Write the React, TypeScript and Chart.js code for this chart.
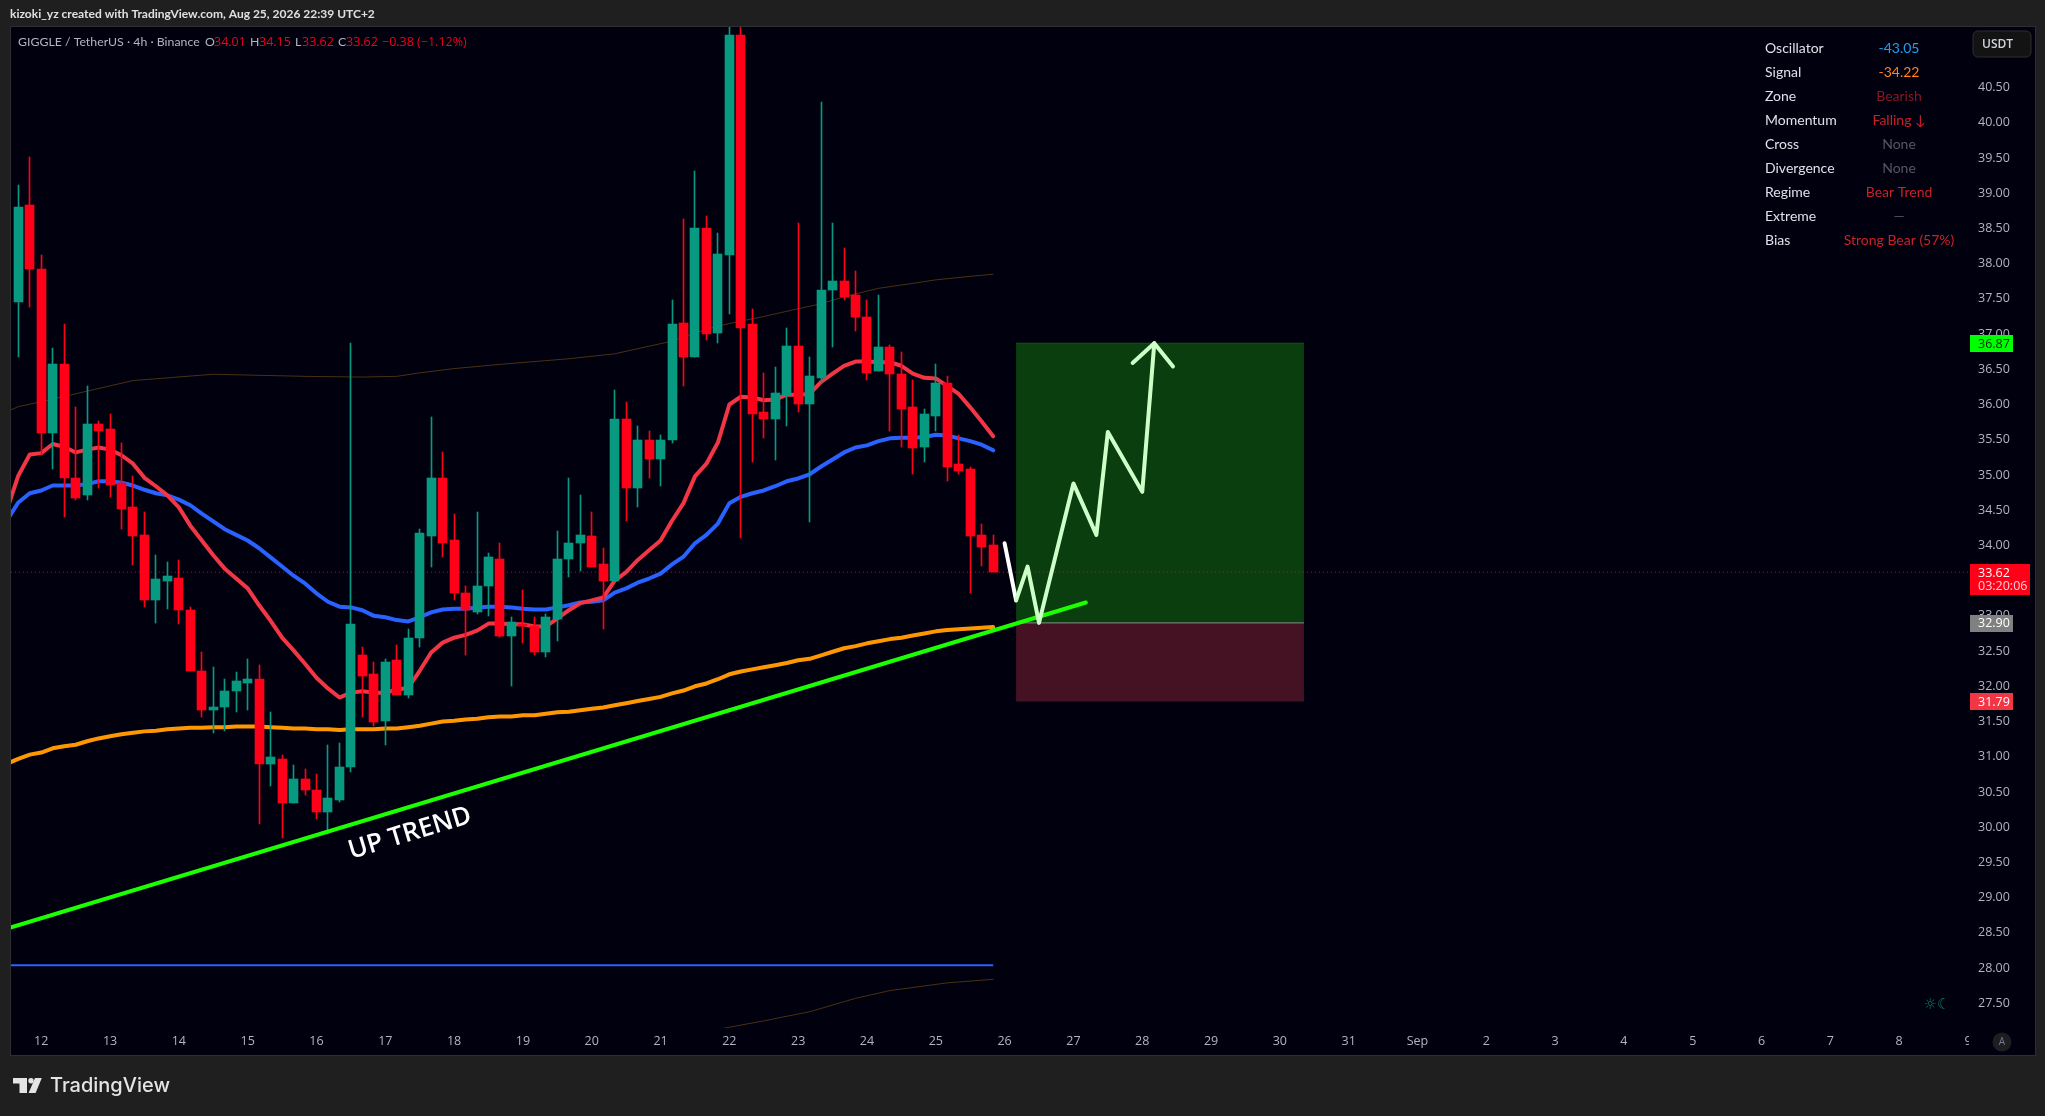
import React, { useEffect, useRef } from "react";
import Chart from "chart.js/auto";

const opens = [37.45,38.83,37.92,35.60,36.58,34.96,34.71,35.72,35.65,34.88,34.54,34.15,33.23,33.49,33.54,33.09,32.21,31.67,31.70,31.93,32.05,32.10,30.89,30.97,30.35,30.68,30.53,30.22,30.39,30.85,32.44,32.17,31.51,32.37,31.87,32.68,34.14,34.95,34.07,33.33,33.06,33.42,33.81,32.71,32.89,32.86,32.49,32.96,33.80,34.03,34.14,33.73,33.49,35.79,34.82,35.49,35.22,35.49,37.16,36.68,38.51,37.02,38.12,41.25,37.15,35.90,35.80,36.14,36.83,36.01,36.38,37.62,37.75,37.55,37.24,36.48,36.81,36.43,35.97,35.39,35.84,36.31,35.16,35.08,34.15,34.01];
const highs = [39.11,39.51,38.12,36.80,37.14,35.96,36.26,35.77,35.86,35.45,34.98,34.47,33.87,33.76,33.79,33.13,32.49,32.27,32.10,32.20,32.39,32.30,31.63,31.03,30.88,30.82,30.75,31.17,31.20,36.87,32.56,32.34,32.39,32.59,32.81,34.23,35.83,35.32,34.45,33.43,34.47,33.89,34.03,32.98,33.36,32.99,33.02,34.20,34.95,34.71,34.47,33.96,36.21,36.03,35.70,35.63,35.57,37.49,38.64,39.32,38.67,38.44,41.60,41.60,37.35,36.45,36.53,37.08,38.57,36.67,40.29,38.58,38.22,37.89,37.48,37.55,36.84,36.74,36.35,35.94,36.57,36.41,35.57,35.11,34.30,34.15];
const lows = [36.67,37.38,35.29,35.09,34.41,34.64,34.65,34.82,34.69,34.24,33.72,33.13,32.90,33.10,32.89,32.21,31.56,31.34,31.37,31.63,31.66,30.05,30.58,29.84,30.35,30.46,30.12,29.90,30.36,30.79,31.56,31.43,31.17,31.87,31.83,32.56,33.69,33.84,33.22,32.45,33.03,33.00,32.70,32.01,32.61,32.45,32.41,32.65,33.55,33.63,33.70,32.82,33.49,34.35,34.55,34.96,34.84,35.46,36.26,36.68,36.91,36.87,37.28,34.11,35.18,35.53,35.21,35.69,35.89,34.33,36.30,36.82,37.48,37.05,36.35,36.48,35.63,35.40,35.01,35.18,35.62,34.91,35.01,33.32,33.71,33.62];
const closes = [38.80,37.93,35.59,36.58,34.95,34.68,35.72,35.63,34.86,34.52,34.14,33.23,33.52,33.56,33.09,32.22,31.67,31.71,31.93,32.07,32.10,30.89,30.99,30.35,30.69,30.53,30.22,30.41,30.86,32.89,32.14,31.50,32.35,31.87,32.69,34.17,34.95,34.04,33.32,33.08,33.42,33.83,32.71,32.91,32.86,32.49,32.99,33.81,34.03,34.15,33.70,33.50,35.79,34.82,35.49,35.23,35.49,37.15,36.68,38.50,37.00,38.14,41.25,37.09,35.87,35.80,36.17,36.83,36.01,36.41,37.62,37.75,37.53,37.24,36.45,36.81,36.43,35.94,35.38,35.86,36.30,35.12,35.06,34.14,33.98,33.62];

// moving averages: first value belongs to bar -1, the bar just left of the visible pane
const redEma = [34.50,34.99,35.29,35.31,35.44,35.40,35.32,35.36,35.39,35.36,35.28,35.16,34.96,34.84,34.71,34.54,34.28,34.07,33.86,33.67,33.53,33.39,33.15,32.93,32.69,32.51,32.32,32.12,31.97,31.84,31.91,31.93,31.91,31.91,31.95,31.98,32.22,32.48,32.62,32.69,32.73,32.79,32.89,32.89,32.88,32.88,32.85,32.85,32.96,33.08,33.18,33.22,33.26,33.50,33.62,33.79,33.93,34.07,34.35,34.60,34.98,35.16,35.46,36.00,36.11,36.10,36.06,36.07,36.14,36.14,36.15,36.32,36.44,36.55,36.61,36.61,36.60,36.60,36.55,36.44,36.38,36.37,36.26,36.15,35.96,35.76,35.55];
const blueEma = [34.35,34.61,34.74,34.78,34.85,34.85,34.85,34.87,34.91,34.91,34.89,34.85,34.79,34.74,34.71,34.65,34.57,34.45,34.34,34.23,34.15,34.07,33.96,33.83,33.70,33.57,33.46,33.32,33.20,33.13,33.12,33.08,33.00,32.98,32.94,32.92,32.98,33.05,33.09,33.10,33.10,33.12,33.13,33.13,33.12,33.10,33.09,33.09,33.12,33.15,33.19,33.20,33.22,33.33,33.39,33.47,33.53,33.60,33.73,33.84,34.03,34.15,34.31,34.60,34.69,34.74,34.78,34.84,34.91,34.95,35.01,35.12,35.22,35.32,35.39,35.42,35.48,35.52,35.53,35.53,35.54,35.57,35.56,35.52,35.48,35.43,35.35];
const orangeEma = [30.90,30.97,31.03,31.06,31.12,31.15,31.17,31.22,31.26,31.29,31.32,31.34,31.36,31.37,31.39,31.40,31.41,31.41,31.42,31.42,31.43,31.43,31.43,31.42,31.41,31.40,31.40,31.39,31.39,31.38,31.39,31.39,31.39,31.40,31.40,31.42,31.44,31.47,31.50,31.51,31.53,31.54,31.56,31.57,31.57,31.59,31.59,31.61,31.63,31.64,31.66,31.68,31.70,31.73,31.76,31.79,31.82,31.85,31.90,31.94,32.00,32.04,32.10,32.17,32.21,32.24,32.27,32.30,32.33,32.37,32.39,32.44,32.49,32.54,32.57,32.61,32.64,32.67,32.69,32.72,32.75,32.78,32.80,32.81,32.82,32.83,32.84];

const upperBandBars = [-1,0,2,6,10,17,25,30,33,35,38,42,48,52,57,60,62,65,68,70,72,75,78,80,83,85];
const upperBand = [35.90,35.97,36.04,36.19,36.34,36.43,36.40,36.39,36.40,36.45,36.51,36.57,36.65,36.72,36.90,37.07,37.15,37.25,37.36,37.43,37.53,37.65,37.72,37.77,37.82,37.85];
const lowerBandBars = [60,62,65,69,73,76,81,85];
const lowerBand = [27.10,27.16,27.25,27.38,27.57,27.68,27.79,27.84];

const trendBars = [-1, 93.08];
const trendPrices = [28.56, 33.19];
const flatLinePrice = 28.04;
const lastPrice = 33.62;
const targetPrice = 36.87;
const entryPrice = 32.90;
const stopPrice = 31.79;
const positionBars = [87, 112.1];

const whiteBars = [86, 87];
const whitePrices = [34.03, 33.22];
const pathBars = [87, 88, 89, 92, 94, 95, 98, 99.05];
const pathPrices = [33.22, 33.70, 32.90, 34.88, 34.15, 35.61, 34.76, 36.87];
const arrowBars = [97.16, 99.05, 100.68];
const arrowPrices = [36.59, 36.87, 36.54];

const dayBars = [2,8,14,20,26,32,38,44,50,56,62,68,74,80,86,92,98,104,110,116,122,128,134,140,146,152,158,164,170];
const dayLabels = ["12","13","14","15","16","17","18","19","20","21","22","23","24","25","26","27","28","29","30","31","Sep","2","3","4","5","6","7","8","9"];
const priceTicks = [27.5,28,28.5,29,29.5,30,30.5,31,31.5,32,32.5,33,33.5,34,34.5,35,35.5,36,36.5,37,37.5,38,38.5,39,39.5,40,40.5];

const tableLabels = ["Oscillator","Signal","Zone","Momentum","Cross","Divergence","Regime","Extreme","Bias"];
const tableValues = ["-43.05","-34.22","Bearish","Falling ↓","None","None","Bear Trend","—","Strong Bear (57%)"];
const tableColors = ["#1fa0f0","#ff801c","#8a1722","#cc2028","#565664","#565664","#cc2028","#565664","#cc2028"];

const UI = '"Open Sans", "Noto Sans", sans-serif';
const LABEL = 'Lato, "Open Sans", sans-serif';
const GREEN = "#089981";
const RED = "#ff0018";
const PANE = "#00000f";
const OUTER = "#1f1f1f";

const pts = (xs: number[], ys: number[]) => xs.map((x, i) => ({ x, y: ys[i] }));
const fromMinusOne = (ys: number[]) => ys.map((y, i) => ({ x: i - 1, y }));

function line(data: any[], color: string, width: number, order: number, extra: any = {}) {
  return {
    type: "line",
    data,
    borderColor: color,
    borderWidth: width,
    pointRadius: 0,
    tension: 0,
    order,
    borderCapStyle: "round",
    borderJoinStyle: "round",
    ...extra,
  };
}

function text(c: CanvasRenderingContext2D, s: string, x: number, y: number, color: string, font: string, align: CanvasTextAlign = "left") {
  c.fillStyle = color;
  c.font = font;
  c.textAlign = align;
  c.textBaseline = "middle";
  c.fillText(s, x, y);
}

const paneGround = {
  id: "paneGround",
  beforeDraw(chart: any) {
    const c = chart.ctx;
    c.save();
    c.fillStyle = OUTER;
    c.fillRect(0, 0, 2045, 1116);
    c.fillStyle = "#2e2e2e";
    c.fillRect(10, 26, 2026, 1030);
    c.fillStyle = PANE;
    c.fillRect(11, 27, 2024, 1028);
    c.restore();
  },
};

const crispBars = {
  id: "crispBars",
  afterDatasetsUpdate(chart: any) {
    chart.getSortedVisibleDatasetMetas().forEach((m: any) => {
      if (m.type !== "bar") return;
      m.data.forEach((el: any) => {
        el.x = Math.floor(el.x) + 0.5;
        el.y = Math.round(el.y);
        el.base = Math.round(el.base);
        if (Math.abs(el.base - el.y) < 1) el.base = el.y + 1;
        el.height = el.base - el.y;
      });
    });
  },
};

const overlay = {
  id: "overlay",
  afterDraw(chart: any) {
    const c = chart.ctx;
    const sx = chart.scales.x;
    const sy = chart.scales.y;
    c.save();

    // hide the part of the last date that passes under the price axis
    c.fillStyle = PANE;
    c.fillRect(1969, 1030, 66, 25);

    text(c, "kizoki_yz created with TradingView.com, Aug 25, 2026 22:39 UTC+2", 10, 14, "#e0e0e0", "700 12px " + LABEL);

    const lf = "12.3px " + LABEL;
    const nf = "12.5px " + UI;
    text(c, "GIGGLE / TetherUS · 4h · Binance", 18, 42, "#b2b5be", lf);
    const bits: [string, number, string, string][] = [
      ["O", 205, "#b2b5be", lf], ["34.01", 214, "#f0001a", nf],
      ["H", 250, "#b2b5be", lf], ["34.15", 259, "#f0001a", nf],
      ["L", 295, "#b2b5be", lf], ["33.62", 302, "#f0001a", nf],
      ["C", 338, "#b2b5be", lf], ["33.62", 346, "#f0001a", nf],
      ["−0.38 (−1.12%)", 382, "#f0001a", nf],
    ];
    bits.forEach(([s, x, col, f]) => text(c, s, x, 42, col, f));

    const tf = "14px " + LABEL;
    tableLabels.forEach((s, i) => {
      const y = 48.5 + i * 24;
      text(c, s, 1765, y, "#dfe1e8", tf);
      text(c, tableValues[i], 1899, y, tableColors[i], tf, "center");
    });

    // USDT button
    c.beginPath();
    c.roundRect(1973, 31, 58, 26, 5);
    c.fillStyle = "#131313";
    c.fill();
    c.strokeStyle = "#2e2e33";
    c.lineWidth = 1;
    c.stroke();
    text(c, "USDT", 1982, 44.5, "#d1d4dc", "600 12px " + UI);

    // price badges
    const badge = (v: number, bg: string, fg: string) => {
      const y = sy.getPixelForValue(v);
      c.fillStyle = bg;
      c.fillRect(1970, Math.round(y) - 8, 43, 17);
      text(c, v.toFixed(2), 1978, y + 1, fg, "12.5px " + UI);
    };
    badge(targetPrice, "#00ff00", "#06280a");
    badge(entryPrice, "#808080", "#ffffff");
    badge(stopPrice, "#f23645", "#ffffff");

    const ly = sy.getPixelForValue(lastPrice);
    c.fillStyle = RED;
    c.fillRect(1970, Math.round(ly) - 8, 60, 31);
    text(c, lastPrice.toFixed(2), 1978, ly + 1, "#ffffff", "12.5px " + UI);
    text(c, "03:20:06", 1978, ly + 14.5, "#ffd0d5", "12.5px " + UI);

    // auto-scale badge and session mark
    c.beginPath();
    c.arc(2002, 1042, 9.5, 0, Math.PI * 2);
    c.fillStyle = "#1d1d22";
    c.fill();
    text(c, "A", 2002, 1042.5, "#787b86", "10px " + UI, "center");
    text(c, "☼☾", 1937, 1005, "#067d69", '15px "DejaVu Sans", sans-serif', "center");

    // rotated drawing label, anchored on the chart scales
    c.save();
    c.translate(sx.getPixelForValue(34.15), sy.getPixelForValue(29.91));
    c.rotate((-16.8 * Math.PI) / 180);
    text(c, "UP TREND", 0, 0, "#ffffff", "600 26px " + UI, "center");
    c.restore();

    // logo
    c.fillStyle = "#e4e4e4";
    c.fillRect(13, 1078, 14, 5.5);
    c.fillRect(19.5, 1078, 7.5, 15);
    c.beginPath();
    c.arc(31, 1080.7, 2.7, 0, Math.PI * 2);
    c.fill();
    c.beginPath();
    c.moveTo(35, 1078);
    c.lineTo(41.8, 1078);
    c.lineTo(35.6, 1093);
    c.lineTo(28.6, 1093);
    c.closePath();
    c.fill();
    text(c, "TradingView", 50, 1086, "#e4e4e4", '500 20px "Inter", ' + UI);

    c.restore();
  },
};

export default function App() {
  const ref = useRef<HTMLCanvasElement>(null);
  useEffect(() => {
    document.body.style.margin = "0";
    document.body.style.background = OUTER;
    document.body.style.overflow = "hidden";
    const colors = closes.map((v, i) => (v >= opens[i] ? GREEN : RED));
    const wicks = highs.map((h, i) => ({ x: i, y: [lows[i], h] }));
    const bodies = opens.map((o, i) => ({ x: i, y: [o, closes[i]] }));
    const lastBar = opens.length - 1;

    const chart = new Chart(ref.current as HTMLCanvasElement, {
      type: "line",
      data: {
        datasets: [
          line(pts(positionBars, [targetPrice, targetPrice]), "#0f5c12", 1, 30, {
            fill: { value: entryPrice }, backgroundColor: "#0b3e0e", borderCapStyle: "butt",
          }),
          line(pts(positionBars, [stopPrice, stopPrice]), "#441222", 1, 30, {
            fill: { value: entryPrice }, backgroundColor: "#441222", borderCapStyle: "butt",
          }),
          line(pts(positionBars, [entryPrice, entryPrice]), "#8a8a8a", 1, 29, { borderCapStyle: "butt" }),
          line(pts([-1, 170], [lastPrice, lastPrice]), RED, 1, 25, { borderDash: [1, 3], borderCapStyle: "butt" }),
          line(pts(upperBandBars, upperBand), "#4a3012", 1, 24),
          line(pts(lowerBandBars, lowerBand), "#4a3012", 1, 24),
          line(fromMinusOne(orangeEma), "#ff9800", 4, 22),
          line(fromMinusOne(blueEma), "#2962ff", 4, 21),
          line(fromMinusOne(redEma), "#f23645", 4, 20),
          { type: "bar", data: wicks, backgroundColor: colors, barThickness: 1, grouped: false, order: 11, borderWidth: 0 },
          { type: "bar", data: bodies, backgroundColor: colors, barThickness: 9, grouped: false, order: 10, borderWidth: 0 },
          line(pts([-1, lastBar], [flatLinePrice, flatLinePrice]), "#2962ff", 2, 5, { borderCapStyle: "butt" }),
          line(pts(trendBars, trendPrices), "#1cff00", 4, 4),
          line(pts(whiteBars, whitePrices), "#ffffff", 4, 3),
          line(pts(pathBars, pathPrices), "#cfffc8", 4, 2),
          line(pts(arrowBars, arrowPrices), "#cfffc8", 4, 1),
        ] as any,
      },
      options: {
        responsive: false,
        animation: false,
        devicePixelRatio: 1,
        parsing: undefined,
        events: [],
        layout: { autoPadding: false, padding: { left: 11, top: 27, right: 10, bottom: 61 } },
        plugins: { legend: { display: false }, tooltip: { enabled: false } },
        scales: {
          x: {
            type: "linear",
            offset: false,
            min: -0.6367,
            max: 170,
            grid: { display: false, drawTicks: false },
            border: { display: false },
            afterFit: (s: any) => { s.height = 27; },
            afterBuildTicks: (s: any) => { s.ticks = dayBars.map((value) => ({ value })); },
            ticks: {
              autoSkip: false, maxRotation: 0, minRotation: 0, padding: 6,
              color: "#b2b5be", font: { family: UI, size: 12.5 },
              callback: (_v: any, i: number) => dayLabels[i],
            },
          },
          y: {
            type: "linear",
            position: "right",
            min: 27.149,
            max: 41.3595,
            grid: { display: false, drawTicks: false },
            border: { display: false },
            afterFit: (s: any) => { s.width = 67; },
            afterBuildTicks: (s: any) => { s.ticks = priceTicks.map((value) => ({ value })); },
            ticks: {
              autoSkip: false, padding: 10, align: "center", crossAlign: "near",
              color: "#b2b5be", font: { family: UI, size: 12.5 },
              callback: (v: any) => Number(v).toFixed(2),
            },
          },
        },
      } as any,
      plugins: [paneGround, crispBars, overlay],
    } as any);
    return () => chart.destroy();
  }, []);
  return <canvas ref={ref} width={2045} height={1116} style={{ display: "block" }} />;
}
